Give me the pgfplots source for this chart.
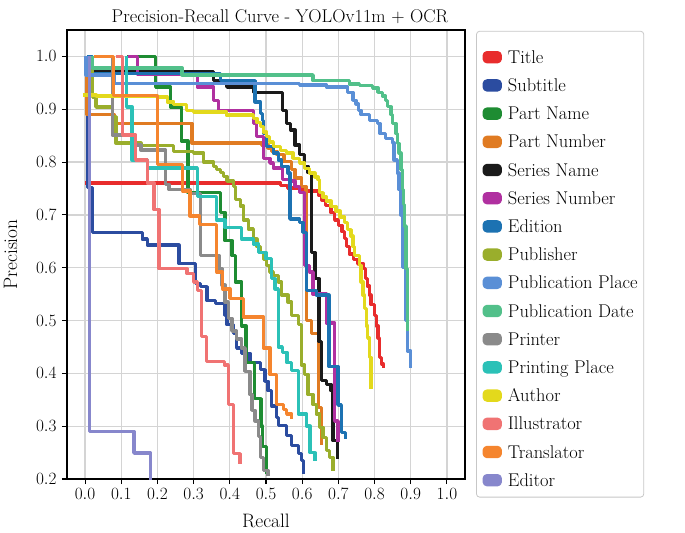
\documentclass[border=0pt]{standalone}
\usepackage{pgfplots}
\pgfplotsset{compat=1.18}

\definecolor{cTitle}{RGB}{232,44,44}
\definecolor{cSubtitle}{RGB}{43,76,160}
\definecolor{cPartName}{RGB}{30,140,50}
\definecolor{cPartNumber}{RGB}{224,123,34}
\definecolor{cSeriesName}{RGB}{26,26,26}
\definecolor{cSeriesNumber}{RGB}{176,48,160}
\definecolor{cEdition}{RGB}{28,114,178}
\definecolor{cPublisher}{RGB}{154,174,44}
\definecolor{cPubPlace}{RGB}{90,143,214}
\definecolor{cPubDate}{RGB}{82,192,138}
\definecolor{cPrinter}{RGB}{138,138,138}
\definecolor{cPrintPlace}{RGB}{43,193,183}
\definecolor{cAuthor}{RGB}{227,217,28}
\definecolor{cIllustrator}{RGB}{240,115,115}
\definecolor{cTranslator}{RGB}{245,133,46}
\definecolor{cEditor}{RGB}{135,135,204}

\begin{document}
\begin{tikzpicture}
\begin{axis}[
  scale only axis, width=398bp, height=449bp,
  xmin=-0.05, xmax=1.05, ymin=0.2, ymax=1.05,
  xtick={0,0.1,0.2,0.3,0.4,0.5,0.6,0.7,0.8,0.9,1.0},
  ytick={0.2,0.3,0.4,0.5,0.6,0.7,0.8,0.9,1.0},
  tick pos=left, tick align=outside, major tick length=5bp,
  every tick/.style={black, line width=1.1bp},
  xticklabel style={/pgf/number format/fixed, /pgf/number format/fixed zerofill, /pgf/number format/precision=1},
  yticklabel style={/pgf/number format/fixed, /pgf/number format/fixed zerofill, /pgf/number format/precision=1},
  tick label style={font=\fontsize{18.5}{22}\selectfont},
  xticklabel shift=0.5bp, yticklabel shift=2bp,
  grid=major, major grid style={draw=black!17, line width=1.3bp},
  axis line style={black, line width=1.3bp},
  title={Precision-Recall Curve - YOLOv11m + OCR},
  title style={font=\fontsize{18.5}{22}\selectfont, yshift=-3bp, xshift=14bp},
  xlabel={Recall}, ylabel={Precision},
  label style={font=\fontsize{19.5}{23}\selectfont},
  xlabel shift=8bp, ylabel shift=12bp,
  legend cell align=left,
  legend style={at={(1.028,0.998)}, anchor=north west,
    draw=black!22, line width=0.8bp, rounded corners=3bp,
    font=\fontsize{18.5}{22}\selectfont,
    inner xsep=6bp, inner ysep=7.4bp,
    row sep=0.2bp, column sep=6bp,
    nodes={inner sep=0pt, text height=24.6bp, text depth=3.4bp}},
  legend image code/.code={\fill[#1] (0bp,-9bp) rectangle (16bp,0bp);},
  every axis plot/.append style={const plot, line width=3.4bp, line join=round},
]
\coordinate (bl) at (rel axis cs:0,0);

\addplot[cTitle] coordinates {(0,0.76) (0.54,0.756) (0.56,0.751) (0.60,0.745) (0.645,0.738) (0.655,0.728) (0.665,0.718) (0.68,0.704) (0.69,0.69) (0.70,0.68) (0.71,0.668) (0.717,0.655) (0.722,0.64) (0.73,0.626) (0.742,0.615) (0.754,0.607) (0.77,0.598) (0.775,0.58) (0.78,0.565) (0.786,0.548) (0.79,0.53) (0.80,0.51) (0.805,0.49) (0.81,0.467) (0.813,0.43) (0.82,0.418) (0.824,0.41)};
\addlegendentry{Title}

\addplot[cSubtitle] coordinates {(0.007,1.0) (0.007,0.752) (0.021,0.667) (0.158,0.654) (0.172,0.643) (0.259,0.608) (0.305,0.57) (0.319,0.564) (0.337,0.538) (0.36,0.532) (0.387,0.51) (0.392,0.492) (0.41,0.476) (0.419,0.448) (0.433,0.438) (0.456,0.42) (0.484,0.407) (0.497,0.385) (0.506,0.367) (0.516,0.338) (0.529,0.316) (0.534,0.301) (0.557,0.282) (0.571,0.263) (0.589,0.248) (0.598,0.235) (0.603,0.21)};
\addlegendentry{Subtitle}

\addplot[cPartName] coordinates {(0.117,1.0) (0.195,0.942) (0.236,0.904) (0.266,0.84) (0.284,0.742) (0.374,0.705) (0.387,0.651) (0.406,0.623) (0.415,0.573) (0.433,0.49) (0.445,0.42) (0.468,0.352) (0.486,0.30) (0.49,0.262) (0.502,0.21)};
\addlegendentry{Part Name}

\addplot[cPartNumber] coordinates {(0.005,1.0) (0.005,0.89) (0.08,0.873) (0.295,0.836) (0.488,0.832) (0.505,0.826) (0.515,0.82) (0.53,0.814) (0.55,0.801) (0.57,0.786) (0.58,0.77) (0.598,0.754) (0.61,0.745) (0.612,0.50) (0.625,0.476) (0.645,0.335) (0.653,0.264)};
\addlegendentry{Part Number}

\addplot[cSeriesName] coordinates {(0.005,1.0) (0.005,0.972) (0.355,0.954) (0.392,0.942) (0.465,0.932) (0.546,0.898) (0.557,0.873) (0.568,0.861) (0.58,0.832) (0.593,0.814) (0.607,0.792) (0.616,0.78) (0.626,0.629) (0.635,0.579) (0.647,0.46) (0.653,0.386) (0.667,0.379) (0.68,0.367) (0.685,0.273) (0.697,0.238)};
\addlegendentry{Series Name}

\addplot[cSeriesNumber] coordinates {(0.118,1.0) (0.145,0.967) (0.31,0.942) (0.355,0.917) (0.369,0.898) (0.465,0.873) (0.474,0.848) (0.493,0.807) (0.511,0.798) (0.52,0.789) (0.545,0.767) (0.571,0.764) (0.58,0.754) (0.593,0.742) (0.607,0.604) (0.621,0.592) (0.63,0.55) (0.667,0.495) (0.69,0.31) (0.699,0.27)};
\addlegendentry{Series Number}

\addplot[cEdition] coordinates {(0.005,1.0) (0.02,0.968) (0.374,0.954) (0.47,0.914) (0.484,0.892) (0.49,0.879) (0.493,0.855) (0.502,0.829) (0.52,0.817) (0.534,0.804) (0.543,0.792) (0.561,0.779) (0.566,0.692) (0.593,0.686) (0.602,0.667) (0.612,0.557) (0.639,0.548) (0.674,0.413) (0.699,0.34) (0.708,0.288) (0.72,0.275)};
\addlegendentry{Edition}

\addplot[cPublisher] coordinates {(0.021,1.0) (0.021,0.923) (0.03,0.904) (0.076,0.886) (0.085,0.836) (0.154,0.831) (0.245,0.82) (0.30,0.817) (0.328,0.80) (0.355,0.792) (0.364,0.786) (0.374,0.78) (0.383,0.773) (0.392,0.764) (0.41,0.754) (0.415,0.729) (0.429,0.717) (0.438,0.69) (0.451,0.673) (0.465,0.654) (0.475,0.64) (0.484,0.629) (0.493,0.615) (0.502,0.604) (0.51,0.592) (0.52,0.585) (0.534,0.573) (0.543,0.548) (0.561,0.535) (0.571,0.51) (0.589,0.492) (0.598,0.416) (0.607,0.398) (0.616,0.36) (0.63,0.341) (0.639,0.323) (0.648,0.298) (0.657,0.279) (0.667,0.254) (0.676,0.241) (0.685,0.216)};
\addlegendentry{Publisher}

\addplot[cPubPlace] coordinates {(0.003,1.0) (0.003,0.965) (0.08,0.949) (0.593,0.946) (0.667,0.942) (0.726,0.932) (0.74,0.917) (0.749,0.91) (0.756,0.898) (0.763,0.89) (0.786,0.879) (0.808,0.873) (0.815,0.854) (0.831,0.845) (0.85,0.836) (0.854,0.804) (0.863,0.779) (0.868,0.748) (0.873,0.70) (0.878,0.60) (0.885,0.50) (0.891,0.442) (0.9,0.41)};
\addlegendentry{Publication Place}

\addplot[cPubDate] coordinates {(0.02,1.0) (0.02,0.978) (0.268,0.965) (0.63,0.954) (0.731,0.948) (0.758,0.945) (0.795,0.94) (0.81,0.932) (0.822,0.925) (0.83,0.917) (0.836,0.905) (0.845,0.89) (0.85,0.873) (0.859,0.854) (0.864,0.835) (0.868,0.817) (0.873,0.786) (0.877,0.748) (0.88,0.72) (0.882,0.679) (0.887,0.598) (0.891,0.48)};
\addlegendentry{Publication Date}

\addplot[cPrinter] coordinates {(0.075,1.0) (0.075,0.851) (0.137,0.832) (0.154,0.823) (0.222,0.757) (0.232,0.748) (0.29,0.74) (0.319,0.623) (0.37,0.598) (0.378,0.567) (0.387,0.535) (0.396,0.504) (0.406,0.48) (0.419,0.465) (0.433,0.448) (0.442,0.404) (0.456,0.36) (0.461,0.33) (0.47,0.31) (0.479,0.28) (0.484,0.241) (0.493,0.216) (0.506,0.205)};
\addlegendentry{Printer}

\addplot[cPrintPlace] coordinates {(0.115,1.0) (0.115,0.904) (0.13,0.804) (0.172,0.789) (0.31,0.735) (0.364,0.69) (0.387,0.676) (0.433,0.654) (0.465,0.645) (0.479,0.629) (0.50,0.617) (0.516,0.579) (0.525,0.56) (0.534,0.45) (0.545,0.44) (0.558,0.42) (0.57,0.405) (0.59,0.323) (0.612,0.30) (0.622,0.25) (0.635,0.235)};
\addlegendentry{Printing Place}

\addplot[cAuthor] coordinates {(-0.005,0.927) (0.03,0.925) (0.2,0.923) (0.227,0.914) (0.245,0.909) (0.28,0.898) (0.30,0.895) (0.39,0.889) (0.465,0.883) (0.475,0.875) (0.484,0.867) (0.493,0.857) (0.502,0.848) (0.51,0.838) (0.52,0.829) (0.54,0.822) (0.557,0.817) (0.575,0.807) (0.593,0.798) (0.607,0.788) (0.621,0.779) (0.635,0.772) (0.644,0.767) (0.648,0.742) (0.657,0.734) (0.667,0.726) (0.68,0.716) (0.694,0.707) (0.705,0.696) (0.717,0.686) (0.726,0.672) (0.735,0.66) (0.74,0.64) (0.745,0.623) (0.758,0.604) (0.763,0.573) (0.768,0.548) (0.772,0.523) (0.777,0.49) (0.781,0.467) (0.786,0.43) (0.79,0.37)};
\addlegendentry{Author}

\addplot[cIllustrator] coordinates {(0.085,1.0) (0.104,0.851) (0.14,0.804) (0.172,0.76) (0.19,0.71) (0.204,0.598) (0.282,0.589) (0.30,0.573) (0.31,0.557) (0.322,0.47) (0.335,0.423) (0.385,0.416) (0.396,0.341) (0.41,0.248) (0.428,0.229)};
\addlegendentry{Illustrator}

\addplot[cTranslator] coordinates {(0.025,1.0) (0.078,0.926) (0.2,0.795) (0.27,0.745) (0.29,0.698) (0.316,0.682) (0.364,0.592) (0.38,0.56) (0.401,0.542) (0.438,0.507) (0.493,0.448) (0.511,0.398) (0.529,0.341) (0.548,0.332) (0.557,0.323) (0.571,0.313)};
\addlegendentry{Translator}

\addplot[cEditor] coordinates {(0.012,1.0) (0.012,0.29) (0.135,0.249) (0.181,0.19)};
\addlegendentry{Editor}
\end{axis}
\pgfresetboundingbox
\path (bl) ++(-67bp,-54bp) rectangle ++(685bp,533bp);
\end{tikzpicture}
\end{document}
